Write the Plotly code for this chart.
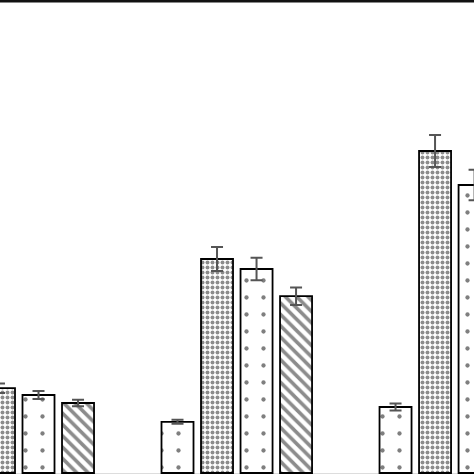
import plotly.graph_objects as go

# groups visible in the crop (first and last bar partly off-screen)
groups = ["G1", "G2", "G3"]

# bar heights (arbitrary units)
series_a = [15.0, 12.8, 16.5]   # white, sparse dots
series_b = [21.2, 53.5, 80.5]   # dense dotted
series_c = [19.5, 51.0, 72.0]   # white, sparse dots
series_d = [17.5, 44.2, 62.0]   # diagonal hatch

err_a = [1.0, 0.5, 0.9]
err_b = [1.2, 3.0, 4.0]
err_c = [1.0, 2.8, 3.8]
err_d = [0.8, 2.2, 3.0]

PATTERNS = {
    "a": dict(shape=".", size=17, solidity=0.05, fgcolor="#000000", bgcolor="white"),
    "b": dict(shape=".", size=5, solidity=0.5, fgcolor="#1a1a1a", bgcolor="white"),
    "c": dict(shape=".", size=17, solidity=0.05, fgcolor="#000000", bgcolor="white"),
    "d": dict(shape="\\", size=8, solidity=0.45, fgcolor="#1a1a1a", bgcolor="white"),
}

fig = go.Figure()

for key, vals, errs in (
    ("a", series_a, err_a),
    ("b", series_b, err_b),
    ("c", series_c, err_c),
    ("d", series_d, err_d),
):
    fig.add_trace(
        go.Bar(
            x=groups,
            y=vals,
            marker=dict(
                color="white",
                pattern=PATTERNS[key],
                line=dict(color="black", width=1.8),
            ),
            error_y=dict(
                type="data",
                array=errs,
                color="#555555",
                thickness=2,
                width=6,
            ),
            showlegend=False,
        )
    )

fig.update_layout(
    width=474,
    height=474,
    margin=dict(l=0, r=0, t=0, b=0),
    paper_bgcolor="white",
    plot_bgcolor="white",
    barmode="group",
    bargap=0.275,
    bargroupgap=0.19,
    xaxis=dict(
        range=[-0.086, 2.088],
        showticklabels=False,
        showgrid=False,
        zeroline=False,
        ticks="",
    ),
    yaxis=dict(
        range=[-0.25, 118.25],
        showticklabels=False,
        showgrid=False,
        zeroline=True,
        zerolinecolor="#dddddd",
        zerolinewidth=1,
        ticks="",
    ),
    shapes=[
        dict(
            type="line",
            xref="paper",
            yref="paper",
            x0=0,
            x1=1,
            y0=1,
            y1=1,
            line=dict(color="#111111", width=5),
        )
    ],
)

# page body has a default 8px margin; drop it so the figure fills the window
fig.write_html(
    "out.html",
    config={"displayModeBar": False},
    post_script="document.body.style.margin='0';document.body.style.overflow='hidden';",
)
